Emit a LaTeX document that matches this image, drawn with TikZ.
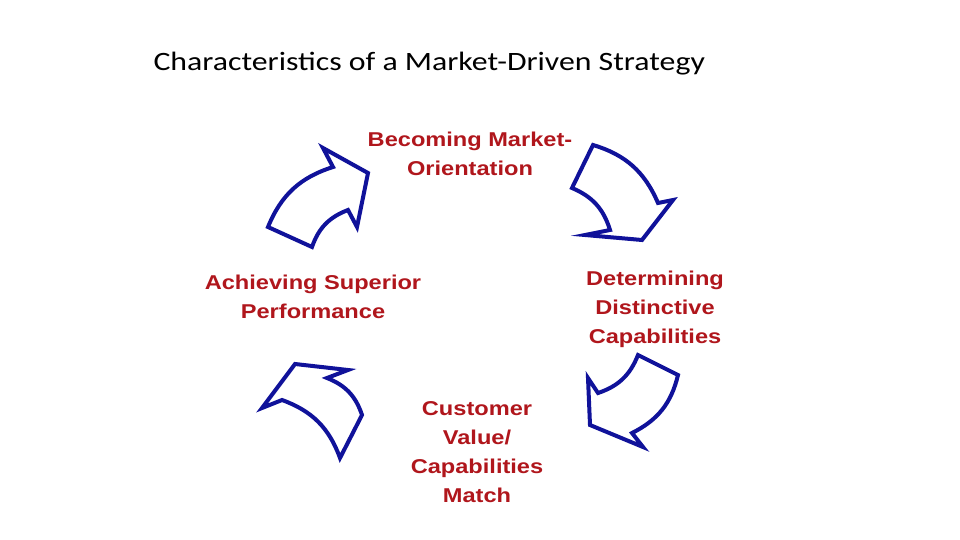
\documentclass[tikz,border=0pt]{standalone}
\usepackage{fontspec}
\setmainfont{Liberation Sans}
\newfontfamily\lblfont{Liberation Sans}[FakeStretch=1.18]
\newfontfamily\titlefont{Carlito}[FakeStretch=1.2]
\definecolor{lab}{HTML}{B0161C}
\definecolor{arr}{HTML}{10129A}
\begin{document}
\begin{tikzpicture}[x=1pt,y=-1pt,
  lbl/.style={text=lab,font=\lblfont\bfseries\fontsize{20}{29}\selectfont,align=center,inner sep=0},
  arrw/.style={draw=arr,line width=4pt,line join=miter,fill=white}]
\useasboundingbox (0,0) rectangle (960,540);
\node[anchor=west,font=\titlefont\fontsize{26.5}{30}\selectfont] (title) at (150,64) {Characteristics of a Market-Driven Strategy};
\node[lbl] (a) at (470,154) {Becoming Market-\\Orientation};
\node[lbl] (b) at (655,309) {Determining\\Distinctive\\Capabilities};
\node[lbl] (c) at (477,452) {Customer\\Value/\\Capabilities\\Match};
\node[lbl] (d) at (313,297) {Achieving Superior\\Performance};
\draw[arrw] (268,227) to[bend left=25] (333,167) -- (323,148) -- (368,173) -- (357,227) -- (348,210) to[bend right=25] (312,247) -- cycle;
\draw[arrw] (593,145) to[bend left=25] (658,203) -- (673,200) -- (642,240) -- (585,235) -- (610,230) to[bend right=25] (572,188) -- cycle;
\draw[arrw] (638,355) to[bend left=25] (598,393) -- (588,378) -- (590,425) -- (643,447) -- (632,433) to[bend right=25] (678,375) -- cycle;
\draw[arrw] (295,364) -- (348,370) -- (327,378) to[bend left=25] (362,415) -- (340,458) to[bend right=25] (282,400) -- (262,408) -- cycle;
\end{tikzpicture}
\end{document}
